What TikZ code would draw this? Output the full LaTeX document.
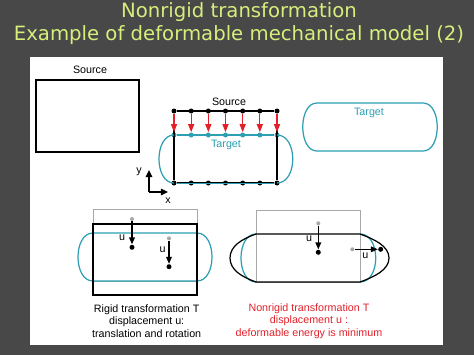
\documentclass[tikz,border=0pt]{standalone}
\usepackage{fontspec}
\setmainfont{Liberation Sans}
\newfontfamily\slidefont{DejaVu Sans}
\usetikzlibrary{arrows.meta}
\definecolor{slideGrey}{HTML}{484848}
\definecolor{titleGreen}{HTML}{D6EE7C}
\definecolor{tgtCyan}{HTML}{2C9FB3}
\definecolor{dispRed}{HTML}{E3202A}
\definecolor{srcGrey}{HTML}{A8A8A8}
\tikzset{
  ttl/.style  = {font=\slidefont\fontsize{11.2}{12.9}\selectfont, text=titleGreen,
                 align=center, inner sep=0pt},
  lbl/.style  = {font=\fontsize{6.1}{7}\selectfont, inner sep=0pt, align=center},
  dot/.style  = {circle, fill=black, inner sep=0pt, minimum size=0.1cm},
  cdot/.style = {dot, fill=tgtCyan},
  gdot/.style = {dot, fill=srcGrey, minimum size=0.08cm},
  srcl/.style = {draw=black, line width=0.7pt},
  tgtl/.style = {draw=tgtCyan, line width=0.7pt},
  oldl/.style = {draw=srcGrey, line width=0.5pt},
  rar/.style  = {-{Triangle[length=4.5pt,width=3.4pt]}, draw=dispRed, fill=dispRed, line width=0.6pt},
  uar/.style  = {-{Triangle[length=4pt,width=3.2pt]}, draw=black, line width=0.8pt},
  axar/.style = {-{Triangle[length=4pt,width=3.6pt]}, draw=black, line width=1.2pt},
}

\begin{document}
\begin{tikzpicture}[x=0.02cm, y=-0.02cm]
  \useasboundingbox (0,0) rectangle (474,355);
  \fill[slideGrey] (0,0) rectangle (474,355);
  \fill[white] (30,57) rectangle (443,345);

  \node[ttl] (title) at (239,23.7) {Nonrigid transformation\\ Example of deformable mechanical model (2)};

  % source alone
  \node[lbl] (srcA) at (90,70) {Source};
  \draw[srcl] (36,80) rectangle (139,152);

  % source grid pushed onto target
  \foreach \i in {0,...,6} {
    \pgfmathsetmacro{\x}{174+17.17*\i}
    \node[dot]  (s\i) at (\x,111) {};
    \node[cdot] (t\i) at (\x,135) {};
    \node[dot]  (b\i) at (\x,183) {};
  }
  \draw[srcl] (s0) -- (s6);
  \draw[srcl] (s0) -- (b0);
  \draw[srcl] (s6) -- (b6);
  \draw[srcl] (b0) -- (b6);
  \draw[tgtl] (t0) -- (t6);
  \draw[tgtl, line width=0.5pt] (b0) -- (b6);
  \draw[tgtl] (t6.center) .. controls +(21,0) and +(21,0) .. (b6.center);
  \draw[tgtl] (t0.center) .. controls +(-20,0) and +(-20,0) .. (b0.center);
  \foreach \i in {0,...,6} {
    \draw[rar] (s\i) -- (t\i);
  }
  \node[lbl] (srcB) at (229,102) {Source};
  \node[lbl, text=tgtCyan] (tgtB) at (226,145) {Target};

  % axes
  \coordinate (org) at (149,192);
  \coordinate (yend) at (149,170);
  \coordinate (xend) at (168,192);
  \draw[axar] (org) -- (yend);
  \draw[axar] (org) -- (xend);
  \node[lbl] (ylbl) at (139,172) {y};
  \node[lbl] (xlbl) at (168,201) {x};

  % target alone
  \draw[tgtl] (317,103) -- (423,103) .. controls +(19,0) and +(19,0) .. (423,151)
              -- (317,151) .. controls +(-19,0) and +(-19,0) .. cycle;
  \node[lbl, text=tgtCyan] (tgtA) at (369,113) {Target};

  % rigid
  \draw[oldl] (93,209) rectangle (197,281);
  \draw[tgtl] (93,233) -- (197,233) .. controls +(20,0) and +(20,0) .. (197,281)
              -- (93,281) .. controls +(-20,0) and +(-20,0) .. cycle;
  \draw[srcl] (93,224) rectangle (197,295);
  \node[gdot] (g1) at (132,219) {};
  \node[dot]  (k1) at (132,247.3) {};
  \draw[uar] (g1) -- (k1);
  \node[lbl] (u1) at (122,238) {u};
  \node[gdot] (g2) at (169,238.3) {};
  \node[dot]  (k2) at (169,266.7) {};
  \draw[uar] (g2) -- (k2);
  \node[lbl] (u2) at (162.7,249.3) {u};
  \node[lbl] (capA) at (146.7,321) {Rigid transformation T\\ displacement u:\\ translation and rotation};

  % nonrigid
  \draw[oldl] (256,210) rectangle (360,282);
  \draw[tgtl] (256,234) .. controls +(-20,0) and +(-20,0) .. (256,282);
  \draw[tgtl] (360,234) .. controls +(21,0) and +(21,0) .. (360,282);
  \draw[srcl] (256,234) -- (360,234)
              .. controls (374,239) and (389,246) .. (389,258)
              .. controls (389,270) and (374,277) .. (360,282)
              -- (256,282)
              .. controls (242,277) and (230,270) .. (230,258)
              .. controls (230,246) and (242,239) .. cycle;
  \node[gdot] (g3) at (318.3,223.3) {};
  \node[dot]  (k3) at (318.3,252.3) {};
  \draw[uar] (g3) -- (k3);
  \node[lbl] (u3) at (309,238.3) {u};
  \node[gdot] (g4) at (352.3,249.3) {};
  \node[dot]  (k4) at (380.7,249.3) {};
  \draw[uar] (g4) -- (k4);
  \node[lbl] (u4) at (365.3,256) {u};
  \node[lbl, text=dispRed] (capB) at (309,321) {Nonrigid transformation T\\ displacement u :\\ deformable energy is minimum};
\end{tikzpicture}
\end{document}
